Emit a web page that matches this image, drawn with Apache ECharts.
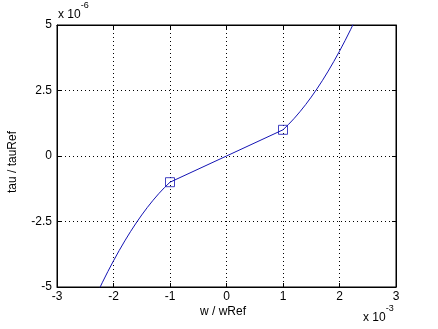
<!DOCTYPE html>
<html>
<head>
<meta charset="utf-8">
<script src="https://cdn.jsdelivr.net/npm/echarts@6/dist/echarts.min.js"></script>
<style>html,body{margin:0;padding:0;background:#fff;}#c{width:438px;height:329px;}</style>
</head>
<body>
<div id="c"></div>
<script>
// values in units of 1e-3 (w/wRef) and 1e-6 (tau/tauRef)
var curveX = [-2.24, -2.2, -2.1, -2.0, -1.9, -1.8, -1.7, -1.6, -1.5, -1.4, -1.3, -1.2, -1.1, -1.0, 0, 1.0, 1.1, 1.2, 1.3, 1.4, 1.5, 1.6, 1.7, 1.8, 1.9, 2.0, 2.1, 2.2, 2.24];
var curveY = [-5.02, -4.84, -4.41, -4.0, -3.61, -3.24, -2.89, -2.56, -2.25, -1.96, -1.69, -1.44, -1.21, -1.0, 0, 1.0, 1.21, 1.44, 1.69, 1.96, 2.25, 2.56, 2.89, 3.24, 3.61, 4.0, 4.41, 4.84, 5.02];
var markerX = [-1, 1];
var markerY = [-1, 1];
var xTicks = [-3, -2, -1, 0, 1, 2, 3];
var yTicks = [-5, -2.5, 0, 2.5, 5];

var font = 'Liberation Sans, Arial, sans-serif';
var lineColor = '#1414b4';
var chart = echarts.init(document.getElementById('c'), null, {renderer: 'canvas'});
function pairs(xs, ys){ return xs.map(function(x,i){return [x, ys[i]];}); }

var tickCommon = {show: true, inside: true, length: 4, lineStyle: {color: '#000', width: 1}};
chart.setOption({
  animation: false,
  backgroundColor: '#fff',
  grid: {left: 57, right: 42, top: 25, bottom: 42, show: true, borderColor: '#000', borderWidth: 1, backgroundColor: '#fff'},
  xAxis: [{
    type: 'value', min: -3, max: 3, interval: 1, position: 'bottom',
    axisLine: {show: true, onZero: false, lineStyle: {color: '#000', width: 1}},
    axisTick: tickCommon,
    axisLabel: {color: '#000', fontSize: 12, fontFamily: font, margin: 4,
      formatter: function(v){ return xTicks.indexOf(v) >= 0 ? String(v) : ''; }},
    splitLine: {show: true, lineStyle: {color: '#000', width: 1, type: [1, 3]}}
  }, {
    type: 'value', min: -3, max: 3, interval: 1, position: 'top',
    axisLine: {show: true, onZero: false, lineStyle: {color: '#000', width: 1}},
    axisTick: tickCommon, axisLabel: {show: false}, splitLine: {show: false}
  }],
  yAxis: [{
    type: 'value', min: -5, max: 5, interval: 2.5, position: 'left',
    axisLine: {show: true, onZero: false, lineStyle: {color: '#000', width: 1}},
    axisTick: tickCommon,
    axisLabel: {color: '#000', fontSize: 12, fontFamily: font, margin: 5,
      formatter: function(v){ return yTicks.indexOf(v) >= 0 ? String(v) : ''; }},
    splitLine: {show: true, lineStyle: {color: '#000', width: 1, type: [1, 3]}}
  }, {
    type: 'value', min: -5, max: 5, interval: 2.5, position: 'right',
    axisLine: {show: true, onZero: false, lineStyle: {color: '#000', width: 1}},
    axisTick: tickCommon, axisLabel: {show: false}, splitLine: {show: false}
  }],
  graphic: [
    {type: 'text', left: 200, top: 306, style: {text: 'w / wRef', font: '12px ' + font, fill: '#000'}},
    {type: 'text', x: 7, y: 162, rotation: Math.PI / 2, style: {text: 'tau / tauRef', font: '12px ' + font, fill: '#000', align: 'center', verticalAlign: 'top'}},
    {type: 'text', left: 58, top: 1, style: {
      text: '{a|x 10}{b|-6}',
      rich: {a: {fontSize: 12, fontFamily: font, fill: '#000', padding: [8, 0, 0, 0]}, b: {fontSize: 9, fontFamily: font, fill: '#000', verticalAlign: 'top'}}
    }},
    {type: 'text', left: 363, top: 304, style: {
      text: '{a|x 10}{b|-3}',
      rich: {a: {fontSize: 12, fontFamily: font, fill: '#000', padding: [8, 0, 0, 0]}, b: {fontSize: 9, fontFamily: font, fill: '#000', verticalAlign: 'top'}}
    }}
  ],
  series: [{
    type: 'line', data: pairs(curveX, curveY), showSymbol: false, symbol: 'none', clip: true,
    lineStyle: {color: lineColor, width: 1}, itemStyle: {color: lineColor}, z: 3
  }, {
    type: 'scatter', data: pairs(markerX, markerY), symbol: 'rect', symbolSize: 9,
    itemStyle: {color: 'rgba(0,0,0,0)', borderColor: lineColor, borderWidth: 1}, z: 4
  }]
});
</script>
</body>
</html>
